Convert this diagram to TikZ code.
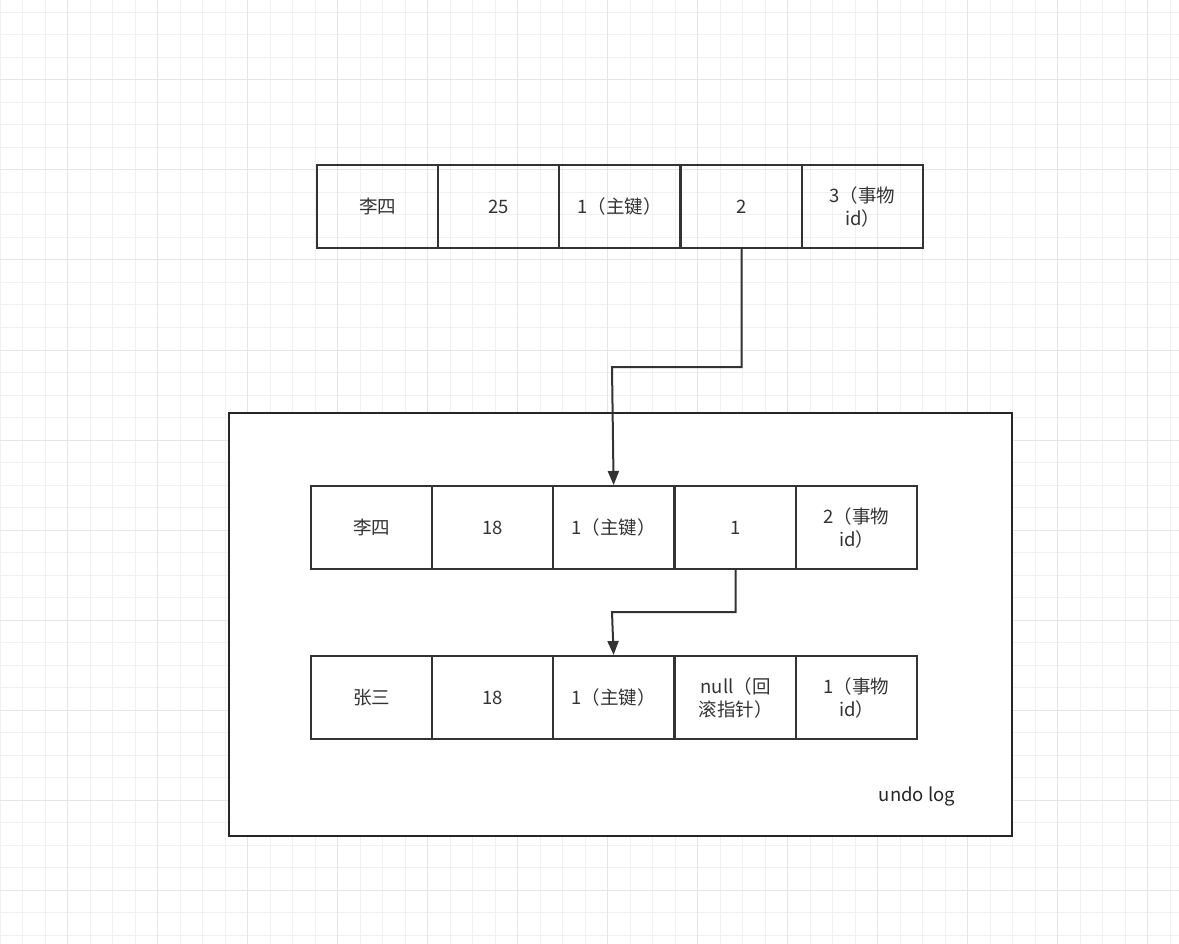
\documentclass[tikz,border=0pt]{standalone}
\usepackage{fontspec}
\setmainfont{Noto Sans CJK SC}
\usetikzlibrary{arrows.meta}
\begin{document}
\begin{tikzpicture}[x=1pt,y=-1pt,
  cell/.style={draw=black!80,line width=2.2pt,minimum width=121pt,minimum height=83pt,inner sep=0pt,anchor=north west,align=center,font=\fontsize{18.5}{23}\selectfont,text=black!80},
  conn/.style={draw=black!80,line width=2pt,-{Triangle[length=14pt,width=11pt]}}]
\useasboundingbox (0,0) rectangle (1179,944);
\fill[white] (0,0) rectangle (1179,944);
\foreach \x in {0,22.5,...,1179} \draw[black!6,line width=1pt] (\x,0) -- (\x,944);
\foreach \y in {12.5,35,...,944} \draw[black!6,line width=1pt] (0,\y) -- (1179,\y);
\foreach \x in {67.5,157.5,...,1179} \draw[black!10,line width=1pt] (\x,0) -- (\x,944);
\foreach \y in {80,170,...,944} \draw[black!10,line width=1pt] (0,\y) -- (1179,\y);
\node[draw=black!85,line width=2.2pt,fill=white,minimum width=783pt,minimum height=423pt,anchor=north west,inner sep=0pt] (log) at (228,412) {};
\node[anchor=center,font=\fontsize{18.5}{23}\selectfont,text=black!85] (lbl) at (917,796) {undo log};
% top row
\node[cell] (a1) at (316,164) {李四};
\node[cell] (a2) at (437,164) {25};
\node[cell] (a3) at (558,164) {1（主键）};
\node[cell] (a4) at (680,164) {2};
\node[cell] (a5) at (801,164) {3（事物\\id）};
% middle row
\node[cell] (b1) at (310,485) {李四};
\node[cell] (b2) at (431,485) {18};
\node[cell] (b3) at (552,485) {1（主键）};
\node[cell] (b4) at (674,485) {1};
\node[cell] (b5) at (795,485) {2（事物\\id）};
% bottom row
\node[cell] (c1) at (310,655) {张三};
\node[cell] (c2) at (431,655) {18};
\node[cell] (c3) at (552,655) {1（主键）};
\node[cell] (c4) at (674,655) {null（回\\滚指针）};
\node[cell] (c5) at (795,655) {1（事物\\id）};
\draw[conn] (a4.south) |- (612,367) -- (b3.north);
\draw[conn] (b4.south) |- (612,612) -- (c3.north);
\end{tikzpicture}
\end{document}
